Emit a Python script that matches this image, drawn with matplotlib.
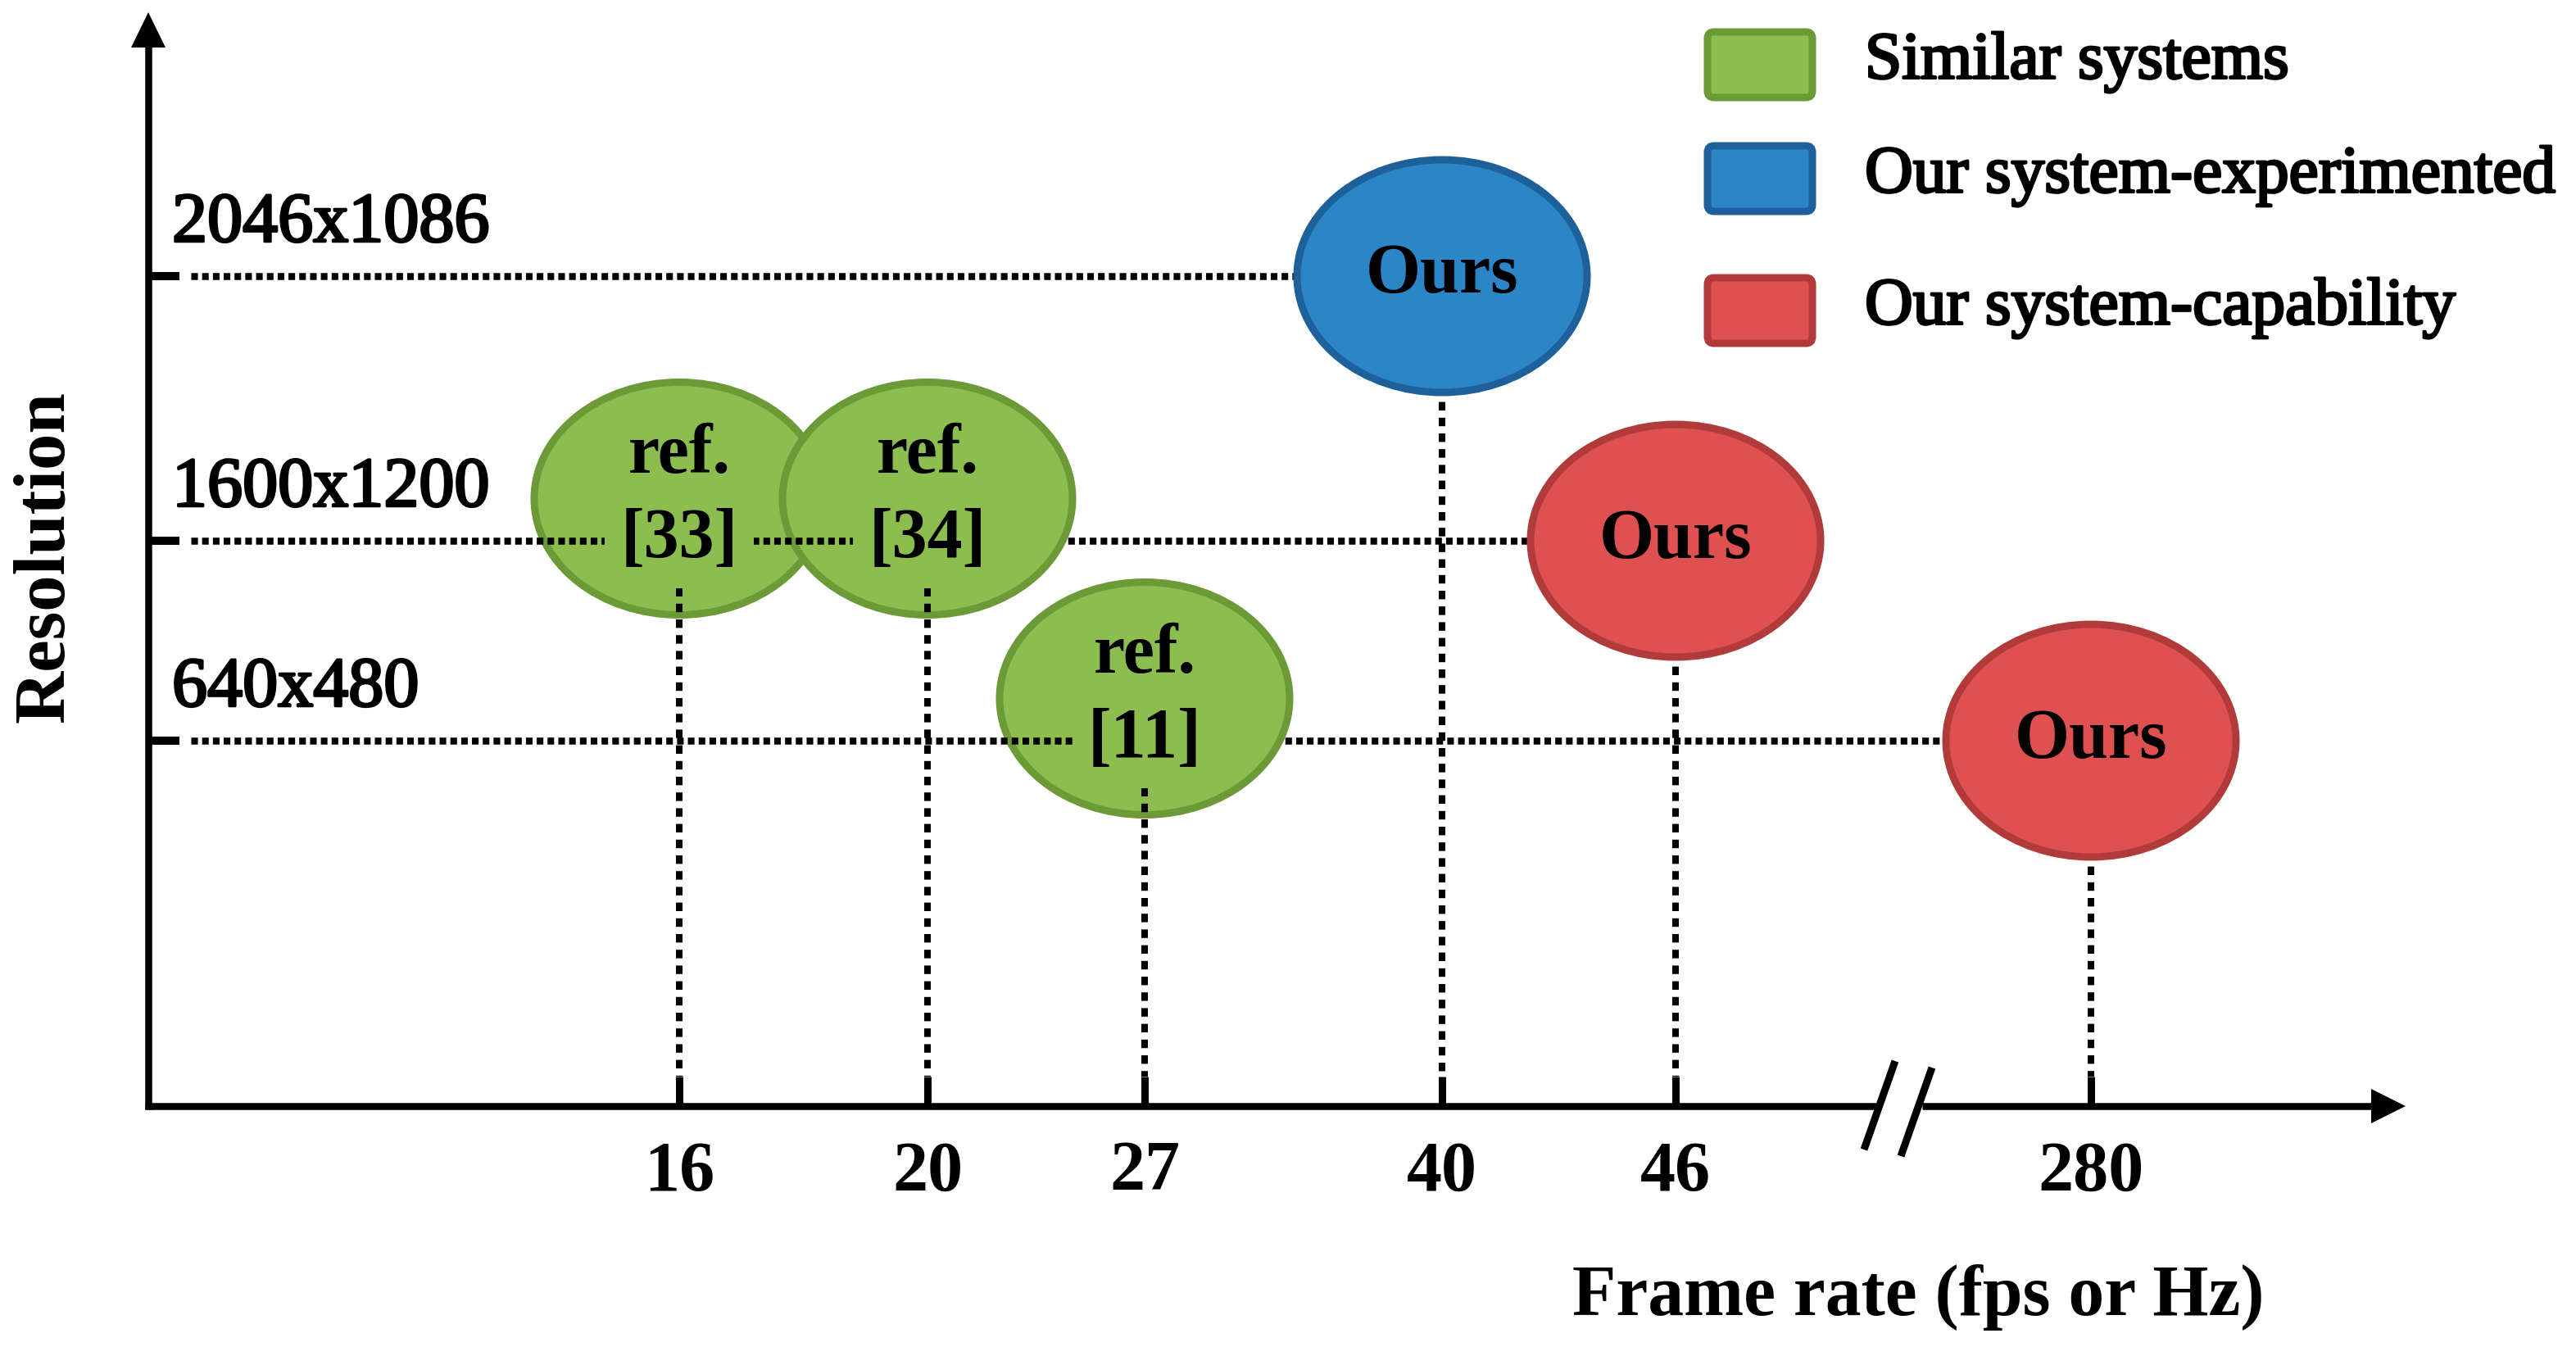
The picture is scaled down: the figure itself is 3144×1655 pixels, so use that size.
import matplotlib
matplotlib.use('Agg')
import matplotlib.pyplot as plt
from matplotlib.patches import Ellipse, FancyBboxPatch, Polygon
import matplotlib.patheffects as pe

# ---------------- data ----------------
fps_ticks = [16, 20, 27, 40, 46, 280]
res_levels = ['2046x1086', '1600x1200', '640x480']
sys_labels = ['ref.\n[33]', 'ref.\n[34]', 'ref.\n[11]', 'Ours', 'Ours', 'Ours']
sys_fps = [16, 20, 27, 40, 46, 280]
sys_res = ['1600x1200', '1600x1200', '640x480', '2046x1086', '1600x1200', '640x480']
sys_cat = ['Similar systems', 'Similar systems', 'Similar systems',
           'Our system-experimented', 'Our system-capability', 'Our system-capability']
legend_labels = ['Similar systems', 'Our system-experimented', 'Our system-capability']
x_label = 'Frame rate (fps or Hz)'
y_label = 'Resolution'

# ---------------- layout / style ----------------
W, H, DPI = 3144, 1655, 200
PT = 72.0 / DPI                      # points per canvas pixel
tick_x = [829, 1132, 1397, 1760, 2045, 2552]   # schematic slot for each fps tick
level_y = [337, 660, 904]                       # schematic slot for each resolution
X0, Y0 = 181, 1350                               # origin of the axes
XEND, YEND = 2936, 15
BREAK = (2290, 2346)
ELL_W, ELL_H = 354, 284
LINE_STEP = 103
fills = {'Similar systems': '#8DBD4F', 'Our system-experimented': '#2B85C7',
         'Our system-capability': '#DF5150'}
edges = {'Similar systems': '#6C9A37', 'Our system-experimented': '#1E6099',
         'Our system-capability': '#B13B3A'}

plt.rcParams['font.family'] = ['Liberation Serif', 'DejaVu Serif']
semi = [pe.withStroke(linewidth=1.1, foreground='black')]

fig = plt.figure(figsize=(W / DPI, H / DPI), dpi=DPI)
ax = fig.add_axes([0, 0, 1, 1])
ax.set_xlim(0, W)
ax.set_ylim(H, 0)
ax.axis('off')

xpos = dict(zip(fps_ticks, tick_x))
ypos = dict(zip(res_levels, level_y))

hdot = dict(color='black', lw=8.5 * PT, linestyle=(0, (0.95, 0.6)), dash_capstyle='butt')
vdot = dict(color='black', lw=8 * PT, linestyle=(0, (1.3, 1.1)), dash_capstyle='butt')

# ---- axes ----
ax_lw = 8.5 * PT
ax.plot([X0, X0], [Y0 + 4, YEND + 40], color='black', lw=ax_lw, solid_capstyle='butt')
ax.add_patch(Polygon([(X0, YEND), (X0 - 21, YEND + 43), (X0 + 21, YEND + 43)],
                     closed=True, color='black', lw=0))
ax.plot([X0 - 4, BREAK[0]], [Y0, Y0], color='black', lw=ax_lw, solid_capstyle='butt')
ax.plot([BREAK[1], XEND - 40], [Y0, Y0], color='black', lw=ax_lw, solid_capstyle='butt')
ax.add_patch(Polygon([(XEND, Y0), (XEND - 42, Y0 - 21), (XEND - 42, Y0 + 21)],
                     closed=True, color='black', lw=0))
for dx in (0, 45):
    ax.plot([2313 + dx, 2275 + dx], [1295 + 8 * (dx > 0), 1403 + 8 * (dx > 0)],
            color='black', lw=9 * PT, solid_capstyle='butt')

# ticks and tick labels
for v, tx in zip(fps_ticks, tick_x):
    ax.plot([tx, tx], [Y0, Y0 - 36], color='black', lw=9 * PT, solid_capstyle='butt')
    ax.text(tx, 1432, str(v), ha='center', va='center', fontsize=31, fontweight='bold')
for r, ly in zip(res_levels, level_y):
    ax.plot([X0, X0 + 38], [ly, ly], color='black', lw=10 * PT, solid_capstyle='butt')
    ax.text(210, ly - 63, r, ha='left', va='center', fontsize=31, path_effects=semi)

ax.text(2341, 1584, x_label, ha='center', va='center', fontsize=31.5, fontweight='bold')
ax.text(55, 680, y_label, ha='center', va='center', rotation=90, fontsize=32,
        fontweight='bold')

# ---- guide lines ----
xstart = X0 + 52
for r in res_levels:
    ly = ypos[r]
    pts = [xpos[f] for f, rr in zip(sys_fps, sys_res) if rr == r]
    greens = [xpos[f] for f, rr, c in zip(sys_fps, sys_res, sys_cat)
              if rr == r and c == 'Similar systems']
    xe = max(pts)
    if greens:
        xg = max(greens)
        ax.plot([xstart, xg], [ly, ly], zorder=3, **hdot)
        ax.plot([xg, xe], [ly, ly], zorder=1, **hdot)
    else:
        ax.plot([xstart, xe], [ly, ly], zorder=1, **hdot)

for f, r, c in zip(sys_fps, sys_res, sys_cat):
    z = 3 if c == 'Similar systems' else 1
    ax.plot([xpos[f], xpos[f]], [ypos[r], Y0 - 36], zorder=z, **vdot)

# ---- bubbles ----
for lab, f, r, c in zip(sys_labels, sys_fps, sys_res, sys_cat):
    lines = lab.split('\n')
    n = len(lines)
    cx, ly = xpos[f], ypos[r]
    cy = ly - (n - 1) * LINE_STEP / 2
    ax.add_patch(Ellipse((cx, cy), ELL_W, ELL_H, facecolor=fills[c],
                         edgecolor=edges[c], lw=9 * PT, zorder=2))
    for k, line in enumerate(lines):
        ty = ly - (n - 1 - k) * LINE_STEP
        kw = {}
        if c == 'Similar systems':
            kw['bbox'] = dict(boxstyle='square,pad=0.22', fc=fills[c], ec='none')
        ax.text(cx, ty, line, ha='center', va='center', fontsize=31,
                fontweight='bold', zorder=5, **kw)

# ---- legend ----
legend_y = [79, 218, 379]
for lab, yc in zip(legend_labels, legend_y):
    ax.add_patch(FancyBboxPatch((2084, yc - 40), 128, 80,
                                boxstyle='round,pad=0,rounding_size=8',
                                facecolor=fills[lab], edgecolor=edges[lab], lw=9 * PT))
    ax.text(2276, yc - 3, lab, ha='left', va='center', fontsize=29.3, path_effects=semi)

fig.savefig('out.png', dpi=DPI)
